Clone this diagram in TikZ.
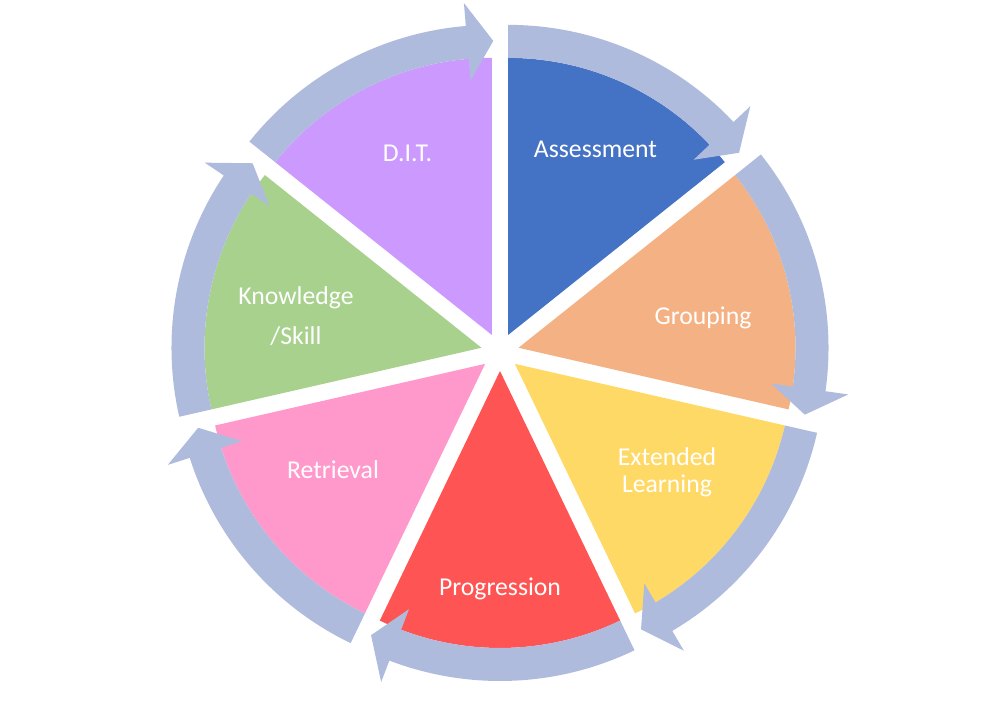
\documentclass[tikz,border=0pt]{standalone}
\usepackage{fontspec}
\setmainfont{Carlito}
\usepackage{xcolor}
\definecolor{ringblue}{RGB}{174,187,220}
\definecolor{assesscol}{HTML}{4472C4}
\definecolor{groupcol}{HTML}{F4B183}
\definecolor{extcol}{HTML}{FFD966}
\definecolor{progcol}{HTML}{FF5454}
\definecolor{retrcol}{HTML}{FF99CC}
\definecolor{knowcol}{HTML}{A9D18E}
\definecolor{ditcol}{HTML}{CC99FF}

\begin{document}
\begin{tikzpicture}[x=0.5pt, y=0.5pt,
    ring/.style={fill=ringblue},
    seglabel/.style={white, font=\fontsize{12.85}{14}\selectfont, align=center, anchor=base}]
      \useasboundingbox (-500,-359) rectangle (500,352);
      % seven segments, each with its own arc arrow
      \foreach \col [count=\i from 0] in {assesscol, groupcol, extcol, progcol, retrcol, knowcol, ditcol} {
        \pgfmathsetmacro\s{90-\i*360/7}
        \pgfmathsetmacro\e{\s-360/7}
        \pgfmathsetmacro\b{\s-180/7}
        \begin{scope}[shift={(\b:19)}]
          \fill[\col] (0,0) -- (\s:277)
            arc[start angle=\s, end angle=\e, radius=277] -- cycle;
          \fill[ring] (\s:277) -- (\s:310)
            arc[start angle=\s, end angle=\e+4.8, radius=310]
            -- (\e+4.8:333) -- (\e-0.3:294) -- (\e+4.8:255) -- (\e+4.8:277)
            arc[start angle=\e+4.8, end angle=\s, radius=277] -- cycle;
        \end{scope}
      }
      \node[seglabel] (assess) at (95.5,194) {Assessment};
      \node[seglabel] (group) at (203,27) {Grouping};
      \node[seglabel] (extend) at (167,-141) {Extended\\Learning};
      \node[seglabel] (prog) at (0,-243) {Progression};
      \node[seglabel] (retr) at (-167,-127) {Retrieval};
      \node[seglabel] (know) at (-204,7) {Knowledge\\[6pt]/Skill};
      \node[seglabel] (dit) at (-92.5,190) {D.I.T.};
    \end{tikzpicture}
\end{document}
